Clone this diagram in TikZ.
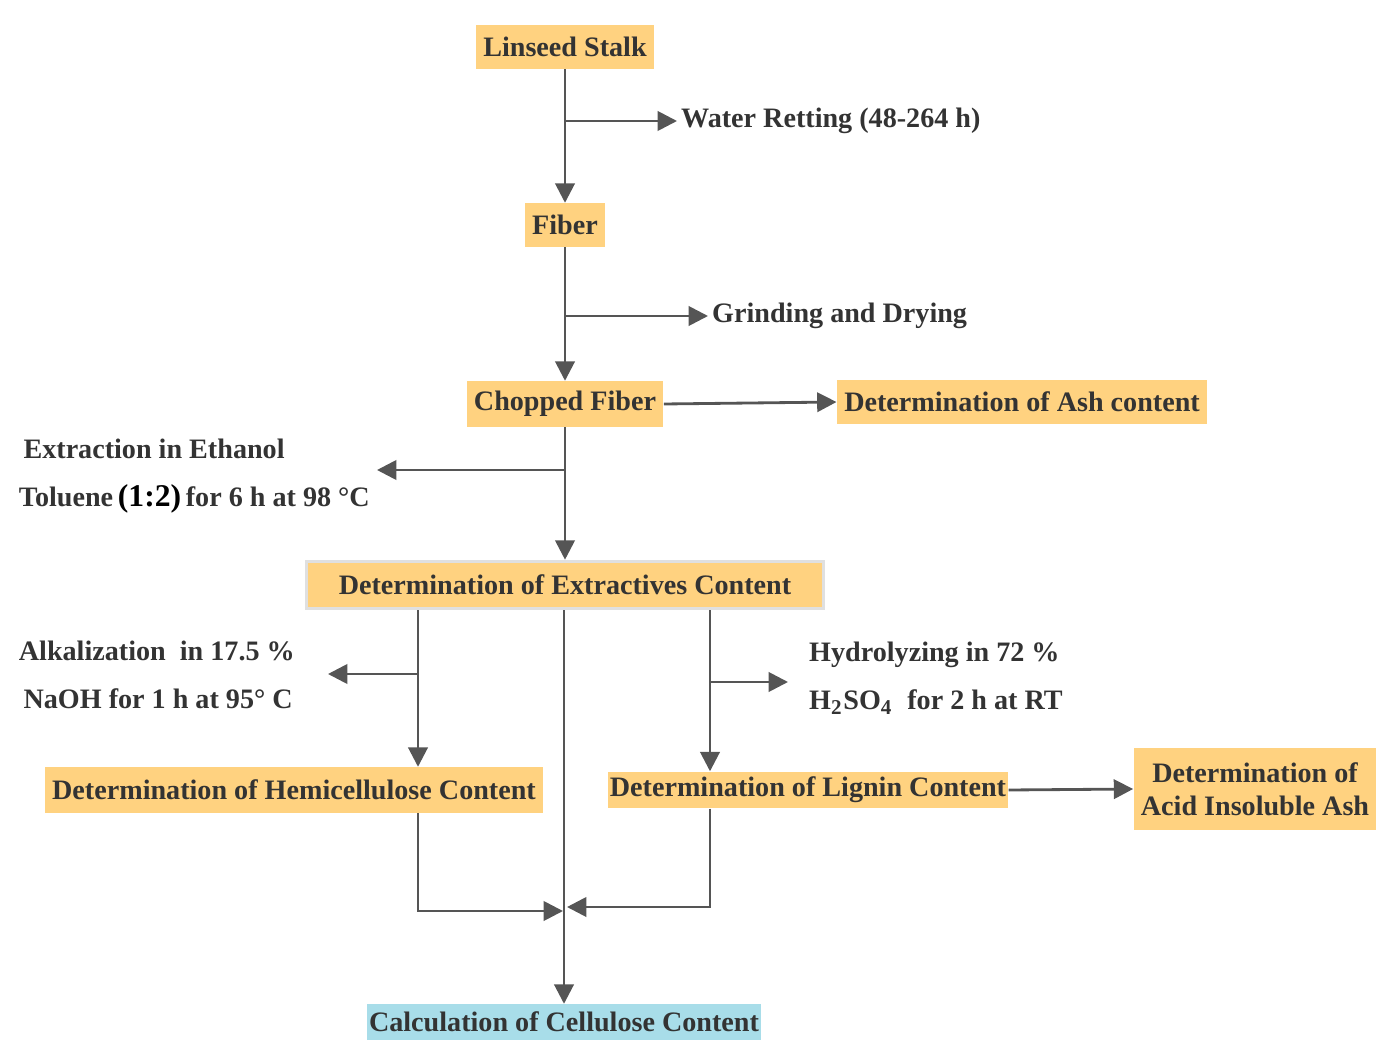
\documentclass[tikz,border=0pt]{standalone}
\usepackage{fontspec}
\setmainfont{Liberation Serif}[BoldFont={Liberation Serif Bold}]
\usetikzlibrary{arrows.meta,calc}

\definecolor{boxorange}{RGB}{255,210,128}
\definecolor{boxcyan}{RGB}{168,221,233}
\definecolor{txtgray}{RGB}{51,51,51}
\definecolor{lngray}{RGB}{85,85,85}

\tikzset{
  stepbox/.style={fill=boxorange, text=txtgray, font=\bfseries\fontsize{8}{9.6}\selectfont,
    inner xsep=2pt, inner ysep=0pt, minimum height=0.43cm},
  calcbox/.style={stepbox, fill=boxcyan, minimum height=0.35cm, inner xsep=0.5pt},
  note/.style={text=txtgray, font=\bfseries\fontsize{8}{13.8}\selectfont, inner sep=1pt},
  arr/.style={draw=lngray, line width=0.8pt, -{Triangle[length=5.5pt,width=5.5pt]}},
  link/.style={draw=lngray, line width=0.8pt}
}

\begin{document}
\begin{tikzpicture}[x=0.01cm,y=-0.01cm]
  \useasboundingbox (0,0) rectangle (1385,1055);
  % boxes
  \node[stepbox] (stalk) at (565,47) {Linseed Stalk};
  \node[stepbox] (fiber) at (565,225) {Fiber};
  \node[stepbox, minimum height=0.45cm] (chopped) at (565,404) {Chopped Fiber};
  \node[stepbox, minimum height=0.44cm] (ash) at (1022,402) {Determination of Ash content};
  \node[stepbox, minimum height=0.47cm, minimum width=5.17cm, draw=black!12, line width=1pt] (extractives) at (565,585) {Determination of Extractives Content};
  \node[stepbox, minimum height=0.45cm, minimum width=4.94cm] (hemi) at (294,790) {Determination of Hemicellulose Content};
  \node[stepbox, minimum height=0.36cm, inner xsep=0.5pt] (lignin) at (808,790) {Determination of Lignin Content};
  \node[stepbox, minimum height=0.82cm, minimum width=2.40cm, align=center,
        font=\bfseries\fontsize{8}{9.4}\selectfont] (acid) at (1255,789) {Determination of\\Acid Insoluble Ash};
  \node[calcbox] (cellulose) at (564,1022) {Calculation of Cellulose Content};
  % side notes
  \node[note, anchor=west] (retting) at (677,121) {Water Retting (48-264 h)};
  \node[note, anchor=west] (grinding) at (708,316) {Grinding and Drying};
  \node[note, anchor=east, align=left] (extraction) at (374,476)
    {\,Extraction in Ethanol\\Toluene\,{\color{black}\fontsize{9}{9}\selectfont(1:2)}\,for 6 h at 98 °C};
  \node[note, anchor=east, align=left] (alkali) at (299,675)
    {Alkalization\ \ in 17.5 \%\\\,NaOH for 1 h at 95° C};
  \node[note, anchor=west, align=left] (hydro) at (805,678)
    {Hydrolyzing in 72 \%\\H\textsubscript{2}SO\textsubscript{4}\ \ for 2 h at RT};
  % helper coordinates
  \coordinate (lx) at (418,0);
  \coordinate (rx) at (710,0);
  \coordinate (jl) at (563,911);
  \coordinate (jr) at (567,907);
  \coordinate (xend) at ($(extraction.east)+(3,-6)$);
  \coordinate (aend) at ($(alkali.east)+(29,-1)$);
  \coordinate (hend) at ($(hydro.west)+(-17,4)$);
  % connectors
  \draw[arr] (stalk) -- (fiber);
  \draw[arr] (stalk.south |- retting.west) -- (retting.west);
  \draw[arr] (fiber) -- (chopped);
  \draw[arr] (fiber.south |- grinding.west) -- (grinding.west);
  \draw[arr] (chopped.east) -- (ash.west);
  \draw[arr] (chopped) -- (extractives);
  \draw[arr] (chopped.south |- xend) -- (xend);
  \draw[arr] (extractives.south -| lx) -- (hemi.north -| lx);
  \draw[arr] (lx |- aend) -- (aend);
  \draw[arr] (extractives.south -| rx) -- (lignin.north -| rx);
  \draw[arr] (rx |- hend) -- (hend);
  \draw[arr] (lignin.east) -- (acid.west);
  \draw[arr] (extractives.south -| cellulose.north) -- (cellulose.north);
  \draw[arr] (hemi.south -| lx) |- (jl);
  \draw[arr] (lignin.south -| rx) |- (jr);
\end{tikzpicture}
\end{document}
